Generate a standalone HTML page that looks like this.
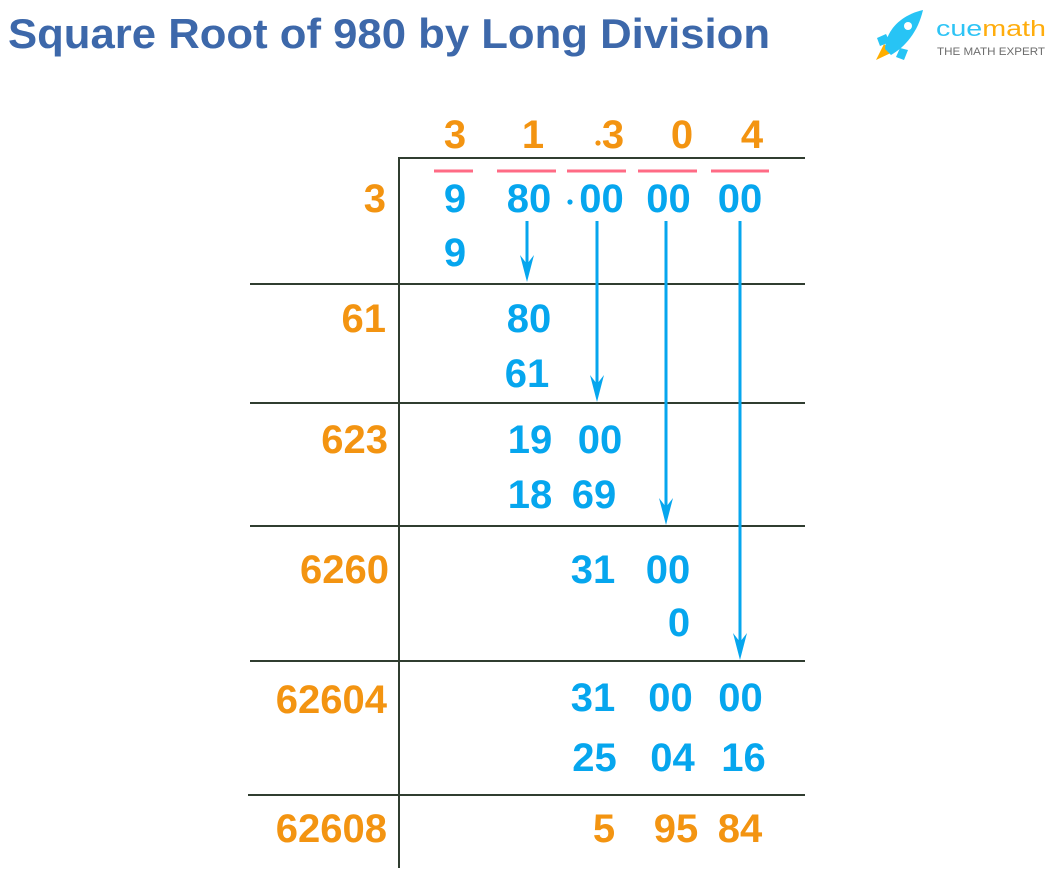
<!DOCTYPE html>
<html>
<head>
<meta charset="utf-8">
<style>
  html,body{margin:0;padding:0;background:#ffffff;}
  svg{display:block;}
  .t{font-family:"Liberation Sans",sans-serif;font-weight:bold;}
  .b{fill:#06a6ee;font-family:"Liberation Sans",sans-serif;font-weight:bold;font-size:40px;text-anchor:middle;}
  .o{fill:#f39411;font-family:"Liberation Sans",sans-serif;font-weight:bold;font-size:40px;text-anchor:middle;}
  .oe{fill:#f39411;font-family:"Liberation Sans",sans-serif;font-weight:bold;font-size:40px;text-anchor:end;}
</style>
</head>
<body>
<svg width="1062" height="889" viewBox="0 0 1062 889" xmlns="http://www.w3.org/2000/svg">
  <rect width="1062" height="889" fill="#ffffff"/>

  <!-- Title -->
  <text class="t" x="8" y="48" font-size="42" fill="#3d68aa" textLength="762" lengthAdjust="spacingAndGlyphs">Square Root of 980 by Long Division</text>

  <!-- Logo -->
  <g>
    <!-- flame -->
    <path d="M884,44 L876,60 L893,52 Z" fill="#ffae00"/>
    <!-- fins -->
    <path d="M886,34 L877,38 L880,46 L890,42 Z" fill="#27c4f5"/>
    <path d="M900,48 L896,57 L904,60 L908,50 Z" fill="#27c4f5"/>
    <!-- body -->
    <path d="M885,49 L891,55 C905,47 918,32 923,10 C901,15 886,30 885,49 Z" fill="#27c4f5"/>
    <circle cx="908" cy="26" r="4" fill="#ffffff"/>
  </g>
  <text x="936" y="36" font-family="Liberation Sans, sans-serif" font-size="22" textLength="110" lengthAdjust="spacingAndGlyphs"><tspan fill="#2ec4f5">cue</tspan><tspan fill="#ffad0d">math</tspan></text>
  <text x="937" y="55" font-family="Liberation Sans, sans-serif" font-size="11" fill="#6d6d6d" textLength="108" lengthAdjust="spacingAndGlyphs">THE MATH EXPERT</text>

  <!-- Grid lines -->
  <g stroke="#303d30" stroke-width="2" fill="none">
    <line x1="399" y1="157" x2="399" y2="868"/>
    <line x1="398" y1="158" x2="805" y2="158"/>
    <line x1="250" y1="284" x2="805" y2="284"/>
    <line x1="250" y1="403" x2="805" y2="403"/>
    <line x1="250" y1="526" x2="805" y2="526"/>
    <line x1="250" y1="661" x2="805" y2="661"/>
    <line x1="248" y1="795" x2="805" y2="795"/>
  </g>

  <!-- Pink bars -->
  <g fill="#ff6b85">
    <rect x="434" y="169.5" width="39" height="3"/>
    <rect x="497" y="169.5" width="59" height="3"/>
    <rect x="567" y="169.5" width="59" height="3"/>
    <rect x="638" y="169.5" width="59" height="3"/>
    <rect x="711" y="169.5" width="58" height="3"/>
  </g>

  <!-- Quotient -->
  <text class="o" x="455" y="148">3</text>
  <text class="o" x="533" y="148">1</text>
  <circle cx="598" cy="143" r="2.6" fill="#f39411"/>
  <text class="o" x="613" y="148">3</text>
  <text class="o" x="682" y="148">0</text>
  <text class="o" x="752" y="148">4</text>

  <!-- Dividend -->
  <text class="b" x="455" y="212">9</text>
  <text class="b" x="529" y="212">80</text>
  <circle cx="570" cy="202" r="2.6" fill="#06a6ee"/>
  <text class="b" x="601.5" y="212">00</text>
  <text class="b" x="668.5" y="212">00</text>
  <text class="b" x="740" y="212">00</text>
  <text class="b" x="455" y="266">9</text>

  <!-- Arrows -->
  <g stroke="#06a6ee" stroke-width="3">
    <line x1="527" y1="221" x2="527" y2="266"/>
    <line x1="597" y1="221" x2="597" y2="386"/>
    <line x1="666" y1="221" x2="666" y2="509"/>
    <line x1="740" y1="221" x2="740" y2="644"/>
  </g>
  <g fill="#06a6ee">
    <path d="M527,282 L520,255 L527,264 L534,255 Z"/>
    <path d="M597,402 L590,375 L597,384 L604,375 Z"/>
    <path d="M666,525 L659,498 L666,507 L673,498 Z"/>
    <path d="M740,660 L733,633 L740,642 L747,633 Z"/>
  </g>

  <!-- Divisors -->
  <text class="oe" x="386" y="212">3</text>
  <text class="oe" x="386" y="332">61</text>
  <text class="oe" x="388" y="453">623</text>
  <text class="oe" x="389" y="583">6260</text>
  <text class="oe" x="387" y="713">62604</text>
  <text class="oe" x="387" y="842">62608</text>

  <!-- Row 2 -->
  <text class="b" x="529" y="332">80</text>
  <text class="b" x="527" y="387">61</text>

  <!-- Row 3 -->
  <text class="b" x="530" y="453">19</text>
  <text class="b" x="600" y="453">00</text>
  <text class="b" x="530" y="508">18</text>
  <text class="b" x="594" y="508">69</text>

  <!-- Row 4 -->
  <text class="b" x="593" y="583">31</text>
  <text class="b" x="668" y="583">00</text>
  <text class="b" x="679" y="636">0</text>

  <!-- Row 5 -->
  <text class="b" x="593" y="711">31</text>
  <text class="b" x="670.5" y="711">00</text>
  <text class="b" x="740.5" y="711">00</text>
  <text class="b" x="594.5" y="771">25</text>
  <text class="b" x="672.5" y="771">04</text>
  <text class="b" x="743.5" y="771">16</text>

  <!-- Row 6 (remainder) -->
  <text class="o" x="604" y="842">5</text>
  <text class="o" x="676" y="842">95</text>
  <text class="o" x="740" y="842">84</text>
</svg>
</body>
</html>
